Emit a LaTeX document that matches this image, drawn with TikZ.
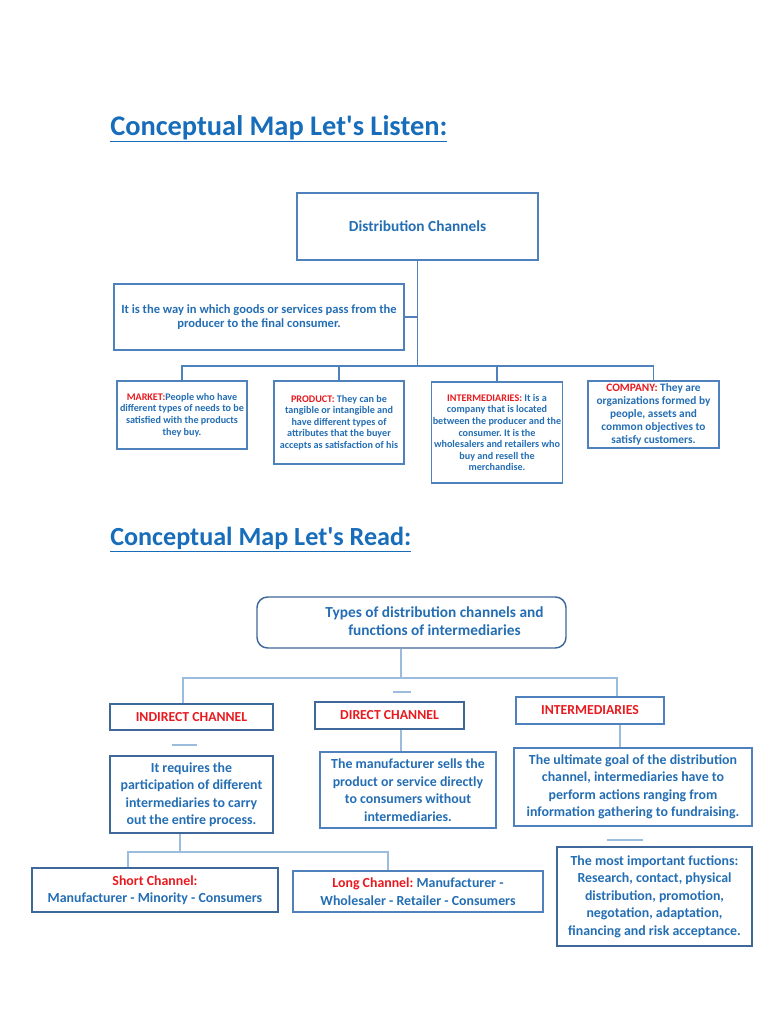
\documentclass[tikz,border=0pt]{standalone}
\usepackage{fontspec}
\setmainfont{Carlito}
\usepackage{tikz}
\usepackage{xcolor}
\definecolor{titleblue}{RGB}{23,109,186}
\definecolor{textblue}{RGB}{36,110,180}
\definecolor{boxline}{RGB}{79,129,189}
\definecolor{darkline}{RGB}{62,104,154}
\definecolor{lightline}{RGB}{155,188,220}
\definecolor{mapred}{RGB}{232,26,32}
\frenchspacing

\begin{document}
\begin{tikzpicture}[x=0.75pt,y=-0.75pt,
    box/.style={draw=boxline,line width=0.9pt,align=center,inner sep=1pt,text=textblue},
    lowbox/.style={draw=darkline,line width=1.1pt,align=center,inner sep=1pt,text=textblue},
    link/.style={draw=boxline,line width=0.9pt},
    lightlink/.style={draw=lightline,line width=0.9pt},
    maptitle/.style={text=titleblue,inner sep=0pt,anchor=base west},
    tinytext/.style={font=\bfseries\fontsize{7.6}{8.7}\selectfont},
    headtext/.style={font=\bfseries\fontsize{10.3}{12}\selectfont,text=mapred},
    desctext/.style={font=\bfseries\fontsize{10.4}{13.1}\selectfont}]
    \useasboundingbox[fill=white] (0,0) rectangle (768,1024);

    % First map
    \node[maptitle,font=\bfseries\fontsize{21.3}{25}\selectfont] (title1) at (110,135)
        {\underline{Conceptual Map Let\textquotesingle s Listen:}};

    \node[box,minimum width=180.75pt,minimum height=50.25pt,font=\bfseries\fontsize{11.5}{13}\selectfont]
        (dist) at (417.5,226.5) {Distribution Channels};
    \node[box,minimum width=217.5pt,minimum height=49.5pt,font=\bfseries\fontsize{9.4}{10.5}\selectfont]
        (way) at (259,317) {It is the way in which goods or services pass from the\\producer to the final consumer.};

    \node[box,tinytext,minimum width=97.5pt,minimum height=51pt] (market) at (182,415)
        {{\color{mapred}MARKET:}People who have\\different types of needs to be\\satisfied with the products\\they buy.};
    \node[box,tinytext,minimum width=97.5pt,minimum height=62.25pt] (product) at (339,422.5)
        {{\color{mapred}PRODUCT:} They can be\\tangible or intangible and\\have different types of\\attributes that the buyer\\accepts as satisfaction of his};
    \node[box,tinytext,minimum width=97.5pt,minimum height=75.75pt] (agents) at (497,432.5)
        {{\color{mapred}INTERMEDIARIES:} It is a\\company that is located\\between the producer and the\\consumer. It is the\\wholesalers and retailers who\\buy and resell the\\merchandise.};
    \node[box,minimum width=98.25pt,minimum height=50.25pt,font=\bfseries\fontsize{8.5}{9.75}\selectfont]
        (company) at (653.5,414.5)
        {{\color{mapred}COMPANY:} They are\\organizations formed by\\people, assets and\\common objectives to\\satisfy customers.};

    % Connectors of the first map
    \coordinate (bus1) at (418,366);
    \draw[link] (dist.south) -- (dist.south |- bus1);
    \draw[link] (way.east) -- (way.east -| dist.south);
    \draw[link] (market.north) |- (bus1) -| (company.north);
    \draw[link] (product.north) -- (product.north |- bus1);
    \draw[link] (agents.north) -- (agents.north |- bus1);

    % Second map
    \node[maptitle,font=\bfseries\fontsize{19.6}{23}\selectfont] (title2) at (110,545)
        {\underline{Conceptual Map Let\textquotesingle s Read:}};

    \node[draw=darkline,line width=1.1pt,rounded corners=8pt,minimum width=231.75pt,minimum height=38.25pt]
        (types) at (411.5,622.5) {};
    \node[align=center,text=textblue,font=\bfseries\fontsize{11.5}{13.5}\selectfont]
        (typestext) at (434.5,621) {Types of distribution channels and\\functions of intermediaries};

    \node[lowbox,headtext,minimum width=122.25pt,minimum height=19.5pt] (indirect) at (191.5,717) {INDIRECT CHANNEL};
    \node[lowbox,headtext,minimum width=111.75pt,minimum height=20.25pt] (direct) at (389.5,715.5) {DIRECT CHANNEL};
    \node[box,headtext,minimum width=111pt,minimum height=20.25pt] (middlemen) at (590,710.5) {INTERMEDIARIES};

    \node[lowbox,desctext,minimum width=122.25pt,minimum height=57.75pt] (indirdesc) at (191.5,794.5)
        {It requires the\\participation of different\\intermediaries to carry\\out the entire process.};
    \node[box,desctext,minimum width=132pt,minimum height=57pt] (dirdesc) at (408,790)
        {The manufacturer sells the\\product or service directly\\to consumers without\\intermediaries.};
    \node[box,desctext,minimum width=178.5pt,minimum height=58.5pt] (middesc) at (633,787)
        {The ultimate goal of the distribution\\channel, intermediaries have to\\perform actions ranging from\\information gathering to fundraising.};
    \node[lowbox,desctext,minimum width=146.25pt,minimum height=74.25pt] (functions) at (654.5,896.5)
        {The most important fuctions:\\Research, contact, physical\\distribution, promotion,\\negotation, adaptation,\\financing and risk acceptance.};

    \node[lowbox,desctext,minimum width=184.5pt,minimum height=33pt] (short) at (155,890)
        {{\color{mapred}Short Channel:}\\Manufacturer - Minority - Consumers};
    \node[box,desctext,minimum width=187.5pt,minimum height=30.75pt] (long) at (418,891.5)
        {{\color{mapred}Long Channel:} Manufacturer -\\Wholesaler - Retailer - Consumers};

    % Connectors of the second map
    \coordinate (bus2) at (401,678);
    \coordinate (bus2l) at (183,678);
    \coordinate (bus2r) at (617,678);
    \draw[lightlink] (bus2 |- types.south) -- (bus2);
    \draw[lightlink] (bus2l |- indirect.north) -- (bus2l) -- (bus2r) -- (bus2r |- middlemen.north);
    \draw[lightlink] (direct.south -| bus2) -- (dirdesc.north -| bus2);
    \draw[lightlink] ([xshift=22.5pt]middlemen.south) -- ([xshift=22.5pt]middlemen.south |- middesc.north);

    \coordinate (bus3) at (180,852);
    \coordinate (bus3l) at (128,852);
    \coordinate (bus3r) at (388,852);
    \draw[lightlink] (bus3 |- indirdesc.south) -- (bus3);
    \draw[lightlink] (bus3l |- short.north) -- (bus3l) -- (bus3r) -- (bus3r |- long.north);

    % Loose strokes
    \coordinate (dash1a) at (393,692); \coordinate (dash1b) at (411,692);
    \coordinate (dash2a) at (172,745); \coordinate (dash2b) at (197,745);
    \coordinate (dash3a) at (607,840); \coordinate (dash3b) at (643,840);
    \draw[lightlink] (dash1a) -- (dash1b);
    \draw[lightlink] (dash2a) -- (dash2b);
    \draw[lightlink] (dash3a) -- (dash3b);
\end{tikzpicture}
\end{document}
